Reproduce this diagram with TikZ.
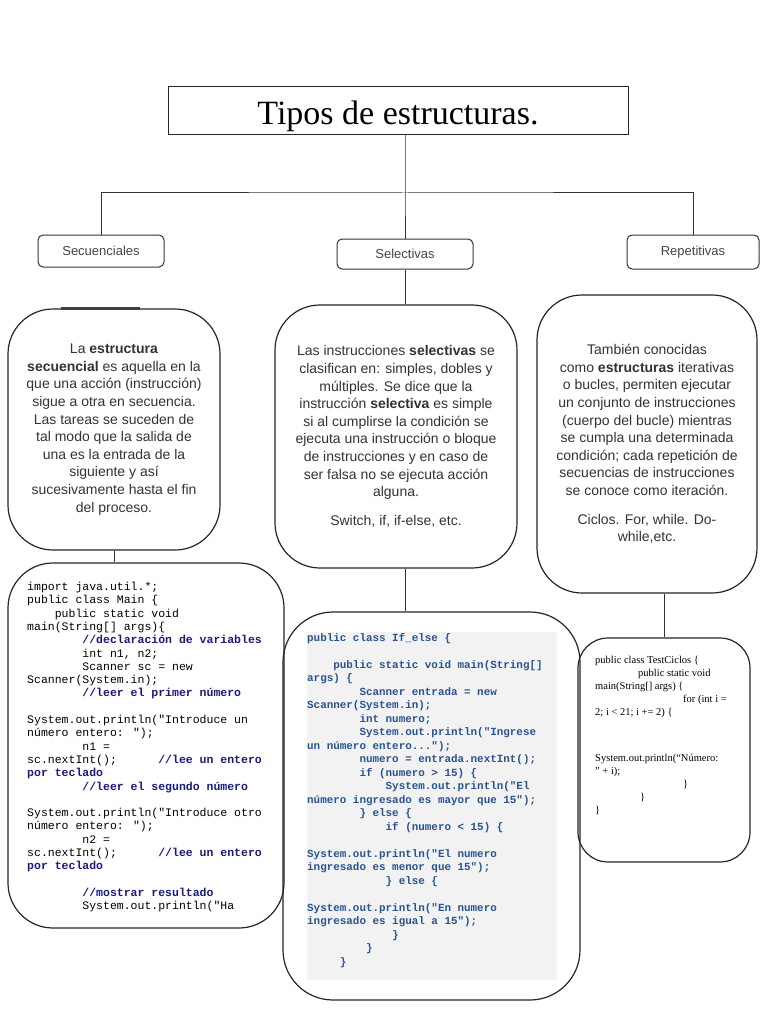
\documentclass[tikz,border=0pt]{standalone}
\usepackage{fontspec}
\setmainfont{Liberation Sans}
\newfontfamily\titlefont{Liberation Serif}
\newfontfamily\codefont{Liberation Mono}
\newfontfamily\sercode{Liberation Serif}
\usetikzlibrary{calc}
\definecolor{txt}{HTML}{333333}
\definecolor{lbl}{HTML}{454545}
\definecolor{cmt}{HTML}{1A1A80}
\definecolor{blu}{HTML}{2A5391}
\definecolor{codebg}{HTML}{F2F2F2}
\newcommand\ind[1]{\hspace*{\dimexpr0.6em*#1\relax}}
\newcommand\cmt[1]{{\bfseries\color{cmt}#1}}
\tikzset{
  bigbox/.style={draw=black!85, line width=1.2pt, inner sep=0pt, align=center,
    text=txt, font=\fontsize{14}{17.6}\selectfont},
  labbox/.style={draw=black!80, line width=1pt, rounded corners=5pt, inner sep=0pt,
    text=lbl, font=\fontsize{13}{15}\selectfont},
  link/.style={draw=black!80, line width=1pt},
  codetxt/.style={anchor=north west, inner sep=0pt, align=left}
}
\begin{document}
\begin{tikzpicture}[x=1pt,y=-1pt]
\useasboundingbox (0,0) rectangle (768,1024);
\fill[white] (0,0) rectangle (768,1024);

% title
\node[draw=black!85, line width=1pt, minimum width=460pt, minimum height=48pt, inner sep=0pt,
  text height=27pt, text depth=0pt,
  font=\titlefont\fontsize{34}{36}\selectfont] (title) at (398,111) {Tipos de estructuras.};

% labels
\node[labbox, minimum width=126pt, minimum height=32pt] (sec) at (101,251) {Secuenciales};
\node[labbox, minimum width=136pt, minimum height=30pt] (sel) at (405,254) {Selectivas};
\node[labbox, minimum width=132pt, minimum height=34pt] (rep) at (693,252) {Repetitivas};

\coordinate (bar) at (405,193);
\draw[link] (sel.north |- title.south) -- (bar) -- (sel.north);
\draw[link] (sec.north) |- (bar) -| (rep.north);

% text boxes
\node[bigbox, rounded corners=45pt, minimum width=212pt, minimum height=241pt] (t1) at (114,429.5)
{La \textbf{estructura}\\
\textbf{secuencial} es aquella en la\\
que una acción (instrucción)\\
sigue a otra en secuencia.\\
Las tareas se suceden de\\
tal modo que la salida de\\
una es la entrada de la\\
siguiente y así\\
sucesivamente hasta el fin\\
del proceso.};
\fill[black!75] (61,306.5) rectangle (140,309.5);

\node[bigbox, rounded corners=45pt, minimum width=242pt, minimum height=263pt] (t2) at (396,436.5)
{Las instrucciones \textbf{selectivas} se\\
clasifican en: simples, dobles y\\
múltiples. Se dice que la\\
instrucción \textbf{selectiva} es simple\\
si al cumplirse la condición se\\
ejecuta una instrucción o bloque\\
de instrucciones y en caso de\\
ser falsa no se ejecuta acción\\
alguna.\\[11pt]
Switch, if, if-else, etc.};

\node[bigbox, rounded corners=45pt, minimum width=220pt, minimum height=298pt] (t3) at (647,444)
{También conocidas\\
como \textbf{estructuras} iterativas\\
o bucles, permiten ejecutar\\
un conjunto de instrucciones\\
(cuerpo del bucle) mientras\\
se cumpla una determinada\\
condición; cada repetición de\\
secuencias de instrucciones\\
se conoce como iteración.\\[11pt]
Ciclos. For, while. Do-\\
while,etc.};

\draw[link] (sel.south) -- (sel.south |- t2.north);

% code boxes
\node[bigbox, rounded corners=45pt, minimum width=276pt, minimum height=365pt] (c1) at (146,745.5) {};
\node[bigbox, rounded corners=50pt, minimum width=297pt, minimum height=388pt] (c2) at (431.5,806) {};
\node[bigbox, rounded corners=30pt, minimum width=172pt, minimum height=224pt] (c3) at (664,750) {};

\draw[link] (t1.south) -- (t1.south |- c1.north);
\draw[link] (sel.south |- t2.south) -- (sel.south |- c2.north);
\draw[link] (c3.north) -- (c3.north |- t3.south);

% left code
\node[codetxt, text=black, font=\codefont\fontsize{11.5}{13.3}\selectfont] (k1) at (27,582)
{import java.util.*;\\
public class Main \{\\
\ind{4}public static void\\
main(String[] args)\{\\
\ind{8}\cmt{//declaración de variables}\\
\ind{8}int n1, n2;\\
\ind{8}Scanner sc = new\\
Scanner(System.in);\\
\ind{8}\cmt{//leer el primer número}\\[13.3pt]
System.out.println("Introduce un\\
número entero: ");\\
\ind{8}n1 =\\
sc.nextInt();\ind{6}\cmt{//lee un entero}\\
\cmt{por teclado}\\
\ind{8}\cmt{//leer el segundo número}\\[13.3pt]
System.out.println("Introduce otro\\
número entero: ");\\
\ind{8}n2 =\\
sc.nextInt();\ind{6}\cmt{//lee un entero}\\
\cmt{por teclado}\\[13.3pt]
\ind{8}\cmt{//mostrar resultado}\\
\ind{8}System.out.println("Ha};

% middle code
\node[fill=codebg, inner sep=0pt, minimum width=250pt, minimum height=348pt] (bg2) at (432,806) {};
\node[codetxt, text=blu, font=\codefont\bfseries\fontsize{10.9}{13.5}\selectfont] (k2) at (307,633)
{public class If\_else \{\\[13.5pt]
\ind{4}public static void main(String[]\\
args) \{\\
\ind{8}Scanner entrada = new\\
Scanner(System.in);\\
\ind{8}int numero;\\
\ind{8}System.out.println("Ingrese\\
un número entero...");\\
\ind{8}numero = entrada.nextInt();\\
\ind{8}if (numero > 15) \{\\
\ind{12}System.out.println("El\\
número ingresado es mayor que 15");\\
\ind{8}\} else \{\\
\ind{12}if (numero < 15) \{\\[13.5pt]
System.out.println("El numero\\
ingresado es menor que 15");\\
\ind{12}\} else \{\\[13.5pt]
System.out.println("En numero\\
ingresado es igual a 15");\\
\ind{13}\}\\
\ind{9}\}\\
\ind{5}\}};

% right code
\node[codetxt, text=black, font=\sercode\fontsize{10.5}{13}\selectfont] (k3) at (595,656)
{public class TestCiclos \{\\
\hspace*{43pt}public static void\\
main(String[] args) \{\\
\hspace*{88pt}for (int i =\\
2; i < 21; i += 2) \{\\[33pt]
System.out.println(“Número:\\
” + i);\\
\hspace*{88pt}\}\\
\hspace*{45pt}\}\\
\}};
\end{tikzpicture}
\end{document}
